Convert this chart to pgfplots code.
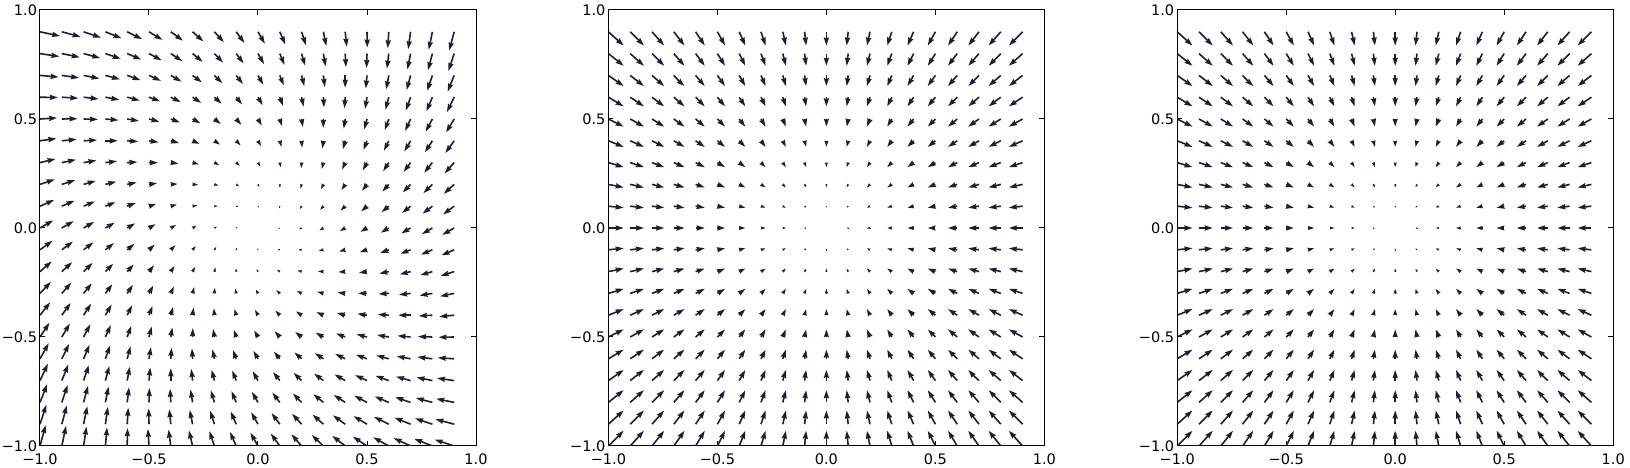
\documentclass[border=0pt]{standalone}
\usepackage{fontspec}
\setmainfont{DejaVu Sans}
\usepackage{pgfplots}
\usepackage{pgfplotstable}
\pgfplotsset{compat=1.18}
\usetikzlibrary{arrows.meta}
\definecolor{arrowcol}{HTML}{1E1E32}

% left panel: rotated converging field (x y u v)
\pgfplotstableread[row sep=\\]{
x y u v\\
-1 -1 0.37 1.37\\ -1 -0.9 0.42 1.28\\ -1 -0.8 0.47 1.19\\ -1 -0.7 0.52 1.11\\ -1 -0.6 0.57 1.02\\ -1 -0.5 0.62 0.93\\ -1 -0.4 0.67 0.85\\ -1 -0.3 0.72 0.76\\ -1 -0.2 0.77 0.67\\ -1 -0.1 0.82 0.59\\ -1 0 0.87 0.5\\ -1 0.1 0.92 0.41\\ -1 0.2 0.97 0.33\\ -1 0.3 1.02 0.24\\ -1 0.4 1.07 0.15\\ -1 0.5 1.12 0.07\\ -1 0.6 1.17 -0.02\\ -1 0.7 1.22 -0.11\\ -1 0.8 1.27 -0.19\\ -1 0.9 1.32 -0.28\\
-0.9 -1 0.28 1.32\\ -0.9 -0.9 0.33 1.23\\ -0.9 -0.8 0.38 1.14\\ -0.9 -0.7 0.43 1.06\\ -0.9 -0.6 0.48 0.97\\ -0.9 -0.5 0.53 0.88\\ -0.9 -0.4 0.58 0.80\\ -0.9 -0.3 0.63 0.71\\ -0.9 -0.2 0.68 0.62\\ -0.9 -0.1 0.73 0.54\\ -0.9 0 0.78 0.45\\ -0.9 0.1 0.83 0.36\\ -0.9 0.2 0.88 0.28\\ -0.9 0.3 0.93 0.19\\ -0.9 0.4 0.98 0.10\\ -0.9 0.5 1.03 0.02\\ -0.9 0.6 1.08 -0.07\\ -0.9 0.7 1.13 -0.16\\ -0.9 0.8 1.18 -0.24\\ -0.9 0.9 1.23 -0.33\\
-0.8 -1 0.19 1.27\\ -0.8 -0.9 0.24 1.18\\ -0.8 -0.8 0.29 1.09\\ -0.8 -0.7 0.34 1.01\\ -0.8 -0.6 0.39 0.92\\ -0.8 -0.5 0.44 0.83\\ -0.8 -0.4 0.49 0.75\\ -0.8 -0.3 0.54 0.66\\ -0.8 -0.2 0.59 0.57\\ -0.8 -0.1 0.64 0.49\\ -0.8 0 0.69 0.40\\ -0.8 0.1 0.74 0.31\\ -0.8 0.2 0.79 0.23\\ -0.8 0.3 0.84 0.14\\ -0.8 0.4 0.89 0.05\\ -0.8 0.5 0.94 -0.03\\ -0.8 0.6 0.99 -0.12\\ -0.8 0.7 1.04 -0.21\\ -0.8 0.8 1.09 -0.29\\ -0.8 0.9 1.14 -0.38\\
-0.7 -1 0.11 1.22\\ -0.7 -0.9 0.16 1.13\\ -0.7 -0.8 0.21 1.04\\ -0.7 -0.7 0.26 0.96\\ -0.7 -0.6 0.31 0.87\\ -0.7 -0.5 0.36 0.78\\ -0.7 -0.4 0.41 0.70\\ -0.7 -0.3 0.46 0.61\\ -0.7 -0.2 0.51 0.52\\ -0.7 -0.1 0.56 0.44\\ -0.7 0 0.61 0.35\\ -0.7 0.1 0.66 0.26\\ -0.7 0.2 0.71 0.18\\ -0.7 0.3 0.76 0.09\\ -0.7 0.4 0.81 0.00\\ -0.7 0.5 0.86 -0.08\\ -0.7 0.6 0.91 -0.17\\ -0.7 0.7 0.96 -0.26\\ -0.7 0.8 1.01 -0.34\\ -0.7 0.9 1.06 -0.43\\
-0.6 -1 0.02 1.17\\ -0.6 -0.9 0.07 1.08\\ -0.6 -0.8 0.12 0.99\\ -0.6 -0.7 0.17 0.91\\ -0.6 -0.6 0.22 0.82\\ -0.6 -0.5 0.27 0.73\\ -0.6 -0.4 0.32 0.65\\ -0.6 -0.3 0.37 0.56\\ -0.6 -0.2 0.42 0.47\\ -0.6 -0.1 0.47 0.39\\ -0.6 0 0.52 0.30\\ -0.6 0.1 0.57 0.21\\ -0.6 0.2 0.62 0.13\\ -0.6 0.3 0.67 0.04\\ -0.6 0.4 0.72 -0.05\\ -0.6 0.5 0.77 -0.13\\ -0.6 0.6 0.82 -0.22\\ -0.6 0.7 0.87 -0.31\\ -0.6 0.8 0.92 -0.39\\ -0.6 0.9 0.97 -0.48\\
-0.5 -1 -0.07 1.12\\ -0.5 -0.9 -0.02 1.03\\ -0.5 -0.8 0.03 0.94\\ -0.5 -0.7 0.08 0.86\\ -0.5 -0.6 0.13 0.77\\ -0.5 -0.5 0.18 0.68\\ -0.5 -0.4 0.23 0.60\\ -0.5 -0.3 0.28 0.51\\ -0.5 -0.2 0.33 0.42\\ -0.5 -0.1 0.38 0.34\\ -0.5 0 0.43 0.25\\ -0.5 0.1 0.48 0.16\\ -0.5 0.2 0.53 0.08\\ -0.5 0.3 0.58 -0.01\\ -0.5 0.4 0.63 -0.10\\ -0.5 0.5 0.68 -0.18\\ -0.5 0.6 0.73 -0.27\\ -0.5 0.7 0.78 -0.36\\ -0.5 0.8 0.83 -0.44\\ -0.5 0.9 0.88 -0.53\\
-0.4 -1 -0.15 1.07\\ -0.4 -0.9 -0.10 0.98\\ -0.4 -0.8 -0.05 0.89\\ -0.4 -0.7 0.00 0.81\\ -0.4 -0.6 0.05 0.72\\ -0.4 -0.5 0.10 0.63\\ -0.4 -0.4 0.15 0.55\\ -0.4 -0.3 0.20 0.46\\ -0.4 -0.2 0.25 0.37\\ -0.4 -0.1 0.30 0.29\\ -0.4 0 0.35 0.20\\ -0.4 0.1 0.40 0.11\\ -0.4 0.2 0.45 0.03\\ -0.4 0.3 0.50 -0.06\\ -0.4 0.4 0.55 -0.15\\ -0.4 0.5 0.60 -0.23\\ -0.4 0.6 0.65 -0.32\\ -0.4 0.7 0.70 -0.41\\ -0.4 0.8 0.75 -0.49\\ -0.4 0.9 0.80 -0.58\\
-0.3 -1 -0.24 1.02\\ -0.3 -0.9 -0.19 0.93\\ -0.3 -0.8 -0.14 0.84\\ -0.3 -0.7 -0.09 0.76\\ -0.3 -0.6 -0.04 0.67\\ -0.3 -0.5 0.01 0.58\\ -0.3 -0.4 0.06 0.50\\ -0.3 -0.3 0.11 0.41\\ -0.3 -0.2 0.16 0.32\\ -0.3 -0.1 0.21 0.24\\ -0.3 0 0.26 0.15\\ -0.3 0.1 0.31 0.06\\ -0.3 0.2 0.36 -0.02\\ -0.3 0.3 0.41 -0.11\\ -0.3 0.4 0.46 -0.20\\ -0.3 0.5 0.51 -0.28\\ -0.3 0.6 0.56 -0.37\\ -0.3 0.7 0.61 -0.46\\ -0.3 0.8 0.66 -0.54\\ -0.3 0.9 0.71 -0.63\\
-0.2 -1 -0.33 0.97\\ -0.2 -0.9 -0.28 0.88\\ -0.2 -0.8 -0.23 0.79\\ -0.2 -0.7 -0.18 0.71\\ -0.2 -0.6 -0.13 0.62\\ -0.2 -0.5 -0.08 0.53\\ -0.2 -0.4 -0.03 0.45\\ -0.2 -0.3 0.02 0.36\\ -0.2 -0.2 0.07 0.27\\ -0.2 -0.1 0.12 0.19\\ -0.2 0 0.17 0.10\\ -0.2 0.1 0.22 0.01\\ -0.2 0.2 0.27 -0.07\\ -0.2 0.3 0.32 -0.16\\ -0.2 0.4 0.37 -0.25\\ -0.2 0.5 0.42 -0.33\\ -0.2 0.6 0.47 -0.42\\ -0.2 0.7 0.52 -0.51\\ -0.2 0.8 0.57 -0.59\\ -0.2 0.9 0.62 -0.68\\
-0.1 -1 -0.41 0.92\\ -0.1 -0.9 -0.36 0.83\\ -0.1 -0.8 -0.31 0.74\\ -0.1 -0.7 -0.26 0.66\\ -0.1 -0.6 -0.21 0.57\\ -0.1 -0.5 -0.16 0.48\\ -0.1 -0.4 -0.11 0.40\\ -0.1 -0.3 -0.06 0.31\\ -0.1 -0.2 -0.01 0.22\\ -0.1 -0.1 0.04 0.14\\ -0.1 0 0.09 0.05\\ -0.1 0.1 0.14 -0.04\\ -0.1 0.2 0.19 -0.12\\ -0.1 0.3 0.24 -0.21\\ -0.1 0.4 0.29 -0.30\\ -0.1 0.5 0.34 -0.38\\ -0.1 0.6 0.39 -0.47\\ -0.1 0.7 0.44 -0.56\\ -0.1 0.8 0.49 -0.64\\ -0.1 0.9 0.54 -0.73\\
0 -1 -0.50 0.87\\ 0 -0.9 -0.45 0.78\\ 0 -0.8 -0.40 0.69\\ 0 -0.7 -0.35 0.61\\ 0 -0.6 -0.30 0.52\\ 0 -0.5 -0.25 0.43\\ 0 -0.4 -0.20 0.35\\ 0 -0.3 -0.15 0.26\\ 0 -0.2 -0.10 0.17\\ 0 -0.1 -0.05 0.09\\ 0 0.1 0.05 -0.09\\ 0 0.2 0.10 -0.17\\ 0 0.3 0.15 -0.26\\ 0 0.4 0.20 -0.35\\ 0 0.5 0.25 -0.43\\ 0 0.6 0.30 -0.52\\ 0 0.7 0.35 -0.61\\ 0 0.8 0.40 -0.69\\ 0 0.9 0.45 -0.78\\
0.1 -1 -0.59 0.82\\ 0.1 -0.9 -0.54 0.73\\ 0.1 -0.8 -0.49 0.64\\ 0.1 -0.7 -0.44 0.56\\ 0.1 -0.6 -0.39 0.47\\ 0.1 -0.5 -0.34 0.38\\ 0.1 -0.4 -0.29 0.30\\ 0.1 -0.3 -0.24 0.21\\ 0.1 -0.2 -0.19 0.12\\ 0.1 -0.1 -0.14 0.04\\ 0.1 0 -0.09 -0.05\\ 0.1 0.1 -0.04 -0.14\\ 0.1 0.2 0.01 -0.22\\ 0.1 0.3 0.06 -0.31\\ 0.1 0.4 0.11 -0.40\\ 0.1 0.5 0.16 -0.48\\ 0.1 0.6 0.21 -0.57\\ 0.1 0.7 0.26 -0.66\\ 0.1 0.8 0.31 -0.74\\ 0.1 0.9 0.36 -0.83\\
0.2 -1 -0.67 0.77\\ 0.2 -0.9 -0.62 0.68\\ 0.2 -0.8 -0.57 0.59\\ 0.2 -0.7 -0.52 0.51\\ 0.2 -0.6 -0.47 0.42\\ 0.2 -0.5 -0.42 0.33\\ 0.2 -0.4 -0.37 0.25\\ 0.2 -0.3 -0.32 0.16\\ 0.2 -0.2 -0.27 0.07\\ 0.2 -0.1 -0.22 -0.01\\ 0.2 0 -0.17 -0.10\\ 0.2 0.1 -0.12 -0.19\\ 0.2 0.2 -0.07 -0.27\\ 0.2 0.3 -0.02 -0.36\\ 0.2 0.4 0.03 -0.45\\ 0.2 0.5 0.08 -0.53\\ 0.2 0.6 0.13 -0.62\\ 0.2 0.7 0.18 -0.71\\ 0.2 0.8 0.23 -0.79\\ 0.2 0.9 0.28 -0.88\\
0.3 -1 -0.76 0.72\\ 0.3 -0.9 -0.71 0.63\\ 0.3 -0.8 -0.66 0.54\\ 0.3 -0.7 -0.61 0.46\\ 0.3 -0.6 -0.56 0.37\\ 0.3 -0.5 -0.51 0.28\\ 0.3 -0.4 -0.46 0.20\\ 0.3 -0.3 -0.41 0.11\\ 0.3 -0.2 -0.36 0.02\\ 0.3 -0.1 -0.31 -0.06\\ 0.3 0 -0.26 -0.15\\ 0.3 0.1 -0.21 -0.24\\ 0.3 0.2 -0.16 -0.32\\ 0.3 0.3 -0.11 -0.41\\ 0.3 0.4 -0.06 -0.50\\ 0.3 0.5 -0.01 -0.58\\ 0.3 0.6 0.04 -0.67\\ 0.3 0.7 0.09 -0.76\\ 0.3 0.8 0.14 -0.84\\ 0.3 0.9 0.19 -0.93\\
0.4 -1 -0.85 0.67\\ 0.4 -0.9 -0.80 0.58\\ 0.4 -0.8 -0.75 0.49\\ 0.4 -0.7 -0.70 0.41\\ 0.4 -0.6 -0.65 0.32\\ 0.4 -0.5 -0.60 0.23\\ 0.4 -0.4 -0.55 0.15\\ 0.4 -0.3 -0.50 0.06\\ 0.4 -0.2 -0.45 -0.03\\ 0.4 -0.1 -0.40 -0.11\\ 0.4 0 -0.35 -0.20\\ 0.4 0.1 -0.30 -0.29\\ 0.4 0.2 -0.25 -0.37\\ 0.4 0.3 -0.20 -0.46\\ 0.4 0.4 -0.15 -0.55\\ 0.4 0.5 -0.10 -0.63\\ 0.4 0.6 -0.05 -0.72\\ 0.4 0.7 0.00 -0.81\\ 0.4 0.8 0.05 -0.89\\ 0.4 0.9 0.10 -0.98\\
0.5 -1 -0.93 0.62\\ 0.5 -0.9 -0.88 0.53\\ 0.5 -0.8 -0.83 0.44\\ 0.5 -0.7 -0.78 0.36\\ 0.5 -0.6 -0.73 0.27\\ 0.5 -0.5 -0.68 0.18\\ 0.5 -0.4 -0.63 0.10\\ 0.5 -0.3 -0.58 0.01\\ 0.5 -0.2 -0.53 -0.08\\ 0.5 -0.1 -0.48 -0.16\\ 0.5 0 -0.43 -0.25\\ 0.5 0.1 -0.38 -0.34\\ 0.5 0.2 -0.33 -0.42\\ 0.5 0.3 -0.28 -0.51\\ 0.5 0.4 -0.23 -0.60\\ 0.5 0.5 -0.18 -0.68\\ 0.5 0.6 -0.13 -0.77\\ 0.5 0.7 -0.08 -0.86\\ 0.5 0.8 -0.03 -0.94\\ 0.5 0.9 0.02 -1.03\\
0.6 -1 -1.02 0.57\\ 0.6 -0.9 -0.97 0.48\\ 0.6 -0.8 -0.92 0.39\\ 0.6 -0.7 -0.87 0.31\\ 0.6 -0.6 -0.82 0.22\\ 0.6 -0.5 -0.77 0.13\\ 0.6 -0.4 -0.72 0.05\\ 0.6 -0.3 -0.67 -0.04\\ 0.6 -0.2 -0.62 -0.13\\ 0.6 -0.1 -0.57 -0.21\\ 0.6 0 -0.52 -0.30\\ 0.6 0.1 -0.47 -0.39\\ 0.6 0.2 -0.42 -0.47\\ 0.6 0.3 -0.37 -0.56\\ 0.6 0.4 -0.32 -0.65\\ 0.6 0.5 -0.27 -0.73\\ 0.6 0.6 -0.22 -0.82\\ 0.6 0.7 -0.17 -0.91\\ 0.6 0.8 -0.12 -0.99\\ 0.6 0.9 -0.07 -1.08\\
0.7 -1 -1.11 0.52\\ 0.7 -0.9 -1.06 0.43\\ 0.7 -0.8 -1.01 0.34\\ 0.7 -0.7 -0.96 0.26\\ 0.7 -0.6 -0.91 0.17\\ 0.7 -0.5 -0.86 0.08\\ 0.7 -0.4 -0.81 0.00\\ 0.7 -0.3 -0.76 -0.09\\ 0.7 -0.2 -0.71 -0.18\\ 0.7 -0.1 -0.66 -0.26\\ 0.7 0 -0.61 -0.35\\ 0.7 0.1 -0.56 -0.44\\ 0.7 0.2 -0.51 -0.52\\ 0.7 0.3 -0.46 -0.61\\ 0.7 0.4 -0.41 -0.70\\ 0.7 0.5 -0.36 -0.78\\ 0.7 0.6 -0.31 -0.87\\ 0.7 0.7 -0.26 -0.96\\ 0.7 0.8 -0.21 -1.04\\ 0.7 0.9 -0.16 -1.13\\
0.8 -1 -1.19 0.47\\ 0.8 -0.9 -1.14 0.38\\ 0.8 -0.8 -1.09 0.29\\ 0.8 -0.7 -1.04 0.21\\ 0.8 -0.6 -0.99 0.12\\ 0.8 -0.5 -0.94 0.03\\ 0.8 -0.4 -0.89 -0.05\\ 0.8 -0.3 -0.84 -0.14\\ 0.8 -0.2 -0.79 -0.23\\ 0.8 -0.1 -0.74 -0.31\\ 0.8 0 -0.69 -0.40\\ 0.8 0.1 -0.64 -0.49\\ 0.8 0.2 -0.59 -0.57\\ 0.8 0.3 -0.54 -0.66\\ 0.8 0.4 -0.49 -0.75\\ 0.8 0.5 -0.44 -0.83\\ 0.8 0.6 -0.39 -0.92\\ 0.8 0.7 -0.34 -1.01\\ 0.8 0.8 -0.29 -1.09\\ 0.8 0.9 -0.24 -1.18\\
0.9 -1 -1.28 0.42\\ 0.9 -0.9 -1.23 0.33\\ 0.9 -0.8 -1.18 0.24\\ 0.9 -0.7 -1.13 0.16\\ 0.9 -0.6 -1.08 0.07\\ 0.9 -0.5 -1.03 -0.02\\ 0.9 -0.4 -0.98 -0.10\\ 0.9 -0.3 -0.93 -0.19\\ 0.9 -0.2 -0.88 -0.28\\ 0.9 -0.1 -0.83 -0.36\\ 0.9 0 -0.78 -0.45\\ 0.9 0.1 -0.73 -0.54\\ 0.9 0.2 -0.68 -0.62\\ 0.9 0.3 -0.63 -0.71\\ 0.9 0.4 -0.58 -0.80\\ 0.9 0.5 -0.53 -0.88\\ 0.9 0.6 -0.48 -0.97\\ 0.9 0.7 -0.43 -1.06\\ 0.9 0.8 -0.38 -1.14\\ 0.9 0.9 -0.33 -1.23\\
}\lefttab

% middle and right panels: converging field (x y u v)
\pgfplotstableread[row sep=\\]{
x y u v\\
-1 -1 1 1\\ -1 -0.9 1 0.9\\ -1 -0.8 1 0.8\\ -1 -0.7 1 0.7\\ -1 -0.6 1 0.6\\ -1 -0.5 1 0.5\\ -1 -0.4 1 0.4\\ -1 -0.3 1 0.3\\ -1 -0.2 1 0.2\\ -1 -0.1 1 0.1\\ -1 0 1 0\\ -1 0.1 1 -0.1\\ -1 0.2 1 -0.2\\ -1 0.3 1 -0.3\\ -1 0.4 1 -0.4\\ -1 0.5 1 -0.5\\ -1 0.6 1 -0.6\\ -1 0.7 1 -0.7\\ -1 0.8 1 -0.8\\ -1 0.9 1 -0.9\\
-0.9 -1 0.9 1\\ -0.9 -0.9 0.9 0.9\\ -0.9 -0.8 0.9 0.8\\ -0.9 -0.7 0.9 0.7\\ -0.9 -0.6 0.9 0.6\\ -0.9 -0.5 0.9 0.5\\ -0.9 -0.4 0.9 0.4\\ -0.9 -0.3 0.9 0.3\\ -0.9 -0.2 0.9 0.2\\ -0.9 -0.1 0.9 0.1\\ -0.9 0 0.9 0\\ -0.9 0.1 0.9 -0.1\\ -0.9 0.2 0.9 -0.2\\ -0.9 0.3 0.9 -0.3\\ -0.9 0.4 0.9 -0.4\\ -0.9 0.5 0.9 -0.5\\ -0.9 0.6 0.9 -0.6\\ -0.9 0.7 0.9 -0.7\\ -0.9 0.8 0.9 -0.8\\ -0.9 0.9 0.9 -0.9\\
-0.8 -1 0.8 1\\ -0.8 -0.9 0.8 0.9\\ -0.8 -0.8 0.8 0.8\\ -0.8 -0.7 0.8 0.7\\ -0.8 -0.6 0.8 0.6\\ -0.8 -0.5 0.8 0.5\\ -0.8 -0.4 0.8 0.4\\ -0.8 -0.3 0.8 0.3\\ -0.8 -0.2 0.8 0.2\\ -0.8 -0.1 0.8 0.1\\ -0.8 0 0.8 0\\ -0.8 0.1 0.8 -0.1\\ -0.8 0.2 0.8 -0.2\\ -0.8 0.3 0.8 -0.3\\ -0.8 0.4 0.8 -0.4\\ -0.8 0.5 0.8 -0.5\\ -0.8 0.6 0.8 -0.6\\ -0.8 0.7 0.8 -0.7\\ -0.8 0.8 0.8 -0.8\\ -0.8 0.9 0.8 -0.9\\
-0.7 -1 0.7 1\\ -0.7 -0.9 0.7 0.9\\ -0.7 -0.8 0.7 0.8\\ -0.7 -0.7 0.7 0.7\\ -0.7 -0.6 0.7 0.6\\ -0.7 -0.5 0.7 0.5\\ -0.7 -0.4 0.7 0.4\\ -0.7 -0.3 0.7 0.3\\ -0.7 -0.2 0.7 0.2\\ -0.7 -0.1 0.7 0.1\\ -0.7 0 0.7 0\\ -0.7 0.1 0.7 -0.1\\ -0.7 0.2 0.7 -0.2\\ -0.7 0.3 0.7 -0.3\\ -0.7 0.4 0.7 -0.4\\ -0.7 0.5 0.7 -0.5\\ -0.7 0.6 0.7 -0.6\\ -0.7 0.7 0.7 -0.7\\ -0.7 0.8 0.7 -0.8\\ -0.7 0.9 0.7 -0.9\\
-0.6 -1 0.6 1\\ -0.6 -0.9 0.6 0.9\\ -0.6 -0.8 0.6 0.8\\ -0.6 -0.7 0.6 0.7\\ -0.6 -0.6 0.6 0.6\\ -0.6 -0.5 0.6 0.5\\ -0.6 -0.4 0.6 0.4\\ -0.6 -0.3 0.6 0.3\\ -0.6 -0.2 0.6 0.2\\ -0.6 -0.1 0.6 0.1\\ -0.6 0 0.6 0\\ -0.6 0.1 0.6 -0.1\\ -0.6 0.2 0.6 -0.2\\ -0.6 0.3 0.6 -0.3\\ -0.6 0.4 0.6 -0.4\\ -0.6 0.5 0.6 -0.5\\ -0.6 0.6 0.6 -0.6\\ -0.6 0.7 0.6 -0.7\\ -0.6 0.8 0.6 -0.8\\ -0.6 0.9 0.6 -0.9\\
-0.5 -1 0.5 1\\ -0.5 -0.9 0.5 0.9\\ -0.5 -0.8 0.5 0.8\\ -0.5 -0.7 0.5 0.7\\ -0.5 -0.6 0.5 0.6\\ -0.5 -0.5 0.5 0.5\\ -0.5 -0.4 0.5 0.4\\ -0.5 -0.3 0.5 0.3\\ -0.5 -0.2 0.5 0.2\\ -0.5 -0.1 0.5 0.1\\ -0.5 0 0.5 0\\ -0.5 0.1 0.5 -0.1\\ -0.5 0.2 0.5 -0.2\\ -0.5 0.3 0.5 -0.3\\ -0.5 0.4 0.5 -0.4\\ -0.5 0.5 0.5 -0.5\\ -0.5 0.6 0.5 -0.6\\ -0.5 0.7 0.5 -0.7\\ -0.5 0.8 0.5 -0.8\\ -0.5 0.9 0.5 -0.9\\
-0.4 -1 0.4 1\\ -0.4 -0.9 0.4 0.9\\ -0.4 -0.8 0.4 0.8\\ -0.4 -0.7 0.4 0.7\\ -0.4 -0.6 0.4 0.6\\ -0.4 -0.5 0.4 0.5\\ -0.4 -0.4 0.4 0.4\\ -0.4 -0.3 0.4 0.3\\ -0.4 -0.2 0.4 0.2\\ -0.4 -0.1 0.4 0.1\\ -0.4 0 0.4 0\\ -0.4 0.1 0.4 -0.1\\ -0.4 0.2 0.4 -0.2\\ -0.4 0.3 0.4 -0.3\\ -0.4 0.4 0.4 -0.4\\ -0.4 0.5 0.4 -0.5\\ -0.4 0.6 0.4 -0.6\\ -0.4 0.7 0.4 -0.7\\ -0.4 0.8 0.4 -0.8\\ -0.4 0.9 0.4 -0.9\\
-0.3 -1 0.3 1\\ -0.3 -0.9 0.3 0.9\\ -0.3 -0.8 0.3 0.8\\ -0.3 -0.7 0.3 0.7\\ -0.3 -0.6 0.3 0.6\\ -0.3 -0.5 0.3 0.5\\ -0.3 -0.4 0.3 0.4\\ -0.3 -0.3 0.3 0.3\\ -0.3 -0.2 0.3 0.2\\ -0.3 -0.1 0.3 0.1\\ -0.3 0 0.3 0\\ -0.3 0.1 0.3 -0.1\\ -0.3 0.2 0.3 -0.2\\ -0.3 0.3 0.3 -0.3\\ -0.3 0.4 0.3 -0.4\\ -0.3 0.5 0.3 -0.5\\ -0.3 0.6 0.3 -0.6\\ -0.3 0.7 0.3 -0.7\\ -0.3 0.8 0.3 -0.8\\ -0.3 0.9 0.3 -0.9\\
-0.2 -1 0.2 1\\ -0.2 -0.9 0.2 0.9\\ -0.2 -0.8 0.2 0.8\\ -0.2 -0.7 0.2 0.7\\ -0.2 -0.6 0.2 0.6\\ -0.2 -0.5 0.2 0.5\\ -0.2 -0.4 0.2 0.4\\ -0.2 -0.3 0.2 0.3\\ -0.2 -0.2 0.2 0.2\\ -0.2 -0.1 0.2 0.1\\ -0.2 0 0.2 0\\ -0.2 0.1 0.2 -0.1\\ -0.2 0.2 0.2 -0.2\\ -0.2 0.3 0.2 -0.3\\ -0.2 0.4 0.2 -0.4\\ -0.2 0.5 0.2 -0.5\\ -0.2 0.6 0.2 -0.6\\ -0.2 0.7 0.2 -0.7\\ -0.2 0.8 0.2 -0.8\\ -0.2 0.9 0.2 -0.9\\
-0.1 -1 0.1 1\\ -0.1 -0.9 0.1 0.9\\ -0.1 -0.8 0.1 0.8\\ -0.1 -0.7 0.1 0.7\\ -0.1 -0.6 0.1 0.6\\ -0.1 -0.5 0.1 0.5\\ -0.1 -0.4 0.1 0.4\\ -0.1 -0.3 0.1 0.3\\ -0.1 -0.2 0.1 0.2\\ -0.1 -0.1 0.1 0.1\\ -0.1 0 0.1 0\\ -0.1 0.1 0.1 -0.1\\ -0.1 0.2 0.1 -0.2\\ -0.1 0.3 0.1 -0.3\\ -0.1 0.4 0.1 -0.4\\ -0.1 0.5 0.1 -0.5\\ -0.1 0.6 0.1 -0.6\\ -0.1 0.7 0.1 -0.7\\ -0.1 0.8 0.1 -0.8\\ -0.1 0.9 0.1 -0.9\\
0 -1 0 1\\ 0 -0.9 0 0.9\\ 0 -0.8 0 0.8\\ 0 -0.7 0 0.7\\ 0 -0.6 0 0.6\\ 0 -0.5 0 0.5\\ 0 -0.4 0 0.4\\ 0 -0.3 0 0.3\\ 0 -0.2 0 0.2\\ 0 -0.1 0 0.1\\ 0 0.1 0 -0.1\\ 0 0.2 0 -0.2\\ 0 0.3 0 -0.3\\ 0 0.4 0 -0.4\\ 0 0.5 0 -0.5\\ 0 0.6 0 -0.6\\ 0 0.7 0 -0.7\\ 0 0.8 0 -0.8\\ 0 0.9 0 -0.9\\
0.1 -1 -0.1 1\\ 0.1 -0.9 -0.1 0.9\\ 0.1 -0.8 -0.1 0.8\\ 0.1 -0.7 -0.1 0.7\\ 0.1 -0.6 -0.1 0.6\\ 0.1 -0.5 -0.1 0.5\\ 0.1 -0.4 -0.1 0.4\\ 0.1 -0.3 -0.1 0.3\\ 0.1 -0.2 -0.1 0.2\\ 0.1 -0.1 -0.1 0.1\\ 0.1 0 -0.1 0\\ 0.1 0.1 -0.1 -0.1\\ 0.1 0.2 -0.1 -0.2\\ 0.1 0.3 -0.1 -0.3\\ 0.1 0.4 -0.1 -0.4\\ 0.1 0.5 -0.1 -0.5\\ 0.1 0.6 -0.1 -0.6\\ 0.1 0.7 -0.1 -0.7\\ 0.1 0.8 -0.1 -0.8\\ 0.1 0.9 -0.1 -0.9\\
0.2 -1 -0.2 1\\ 0.2 -0.9 -0.2 0.9\\ 0.2 -0.8 -0.2 0.8\\ 0.2 -0.7 -0.2 0.7\\ 0.2 -0.6 -0.2 0.6\\ 0.2 -0.5 -0.2 0.5\\ 0.2 -0.4 -0.2 0.4\\ 0.2 -0.3 -0.2 0.3\\ 0.2 -0.2 -0.2 0.2\\ 0.2 -0.1 -0.2 0.1\\ 0.2 0 -0.2 0\\ 0.2 0.1 -0.2 -0.1\\ 0.2 0.2 -0.2 -0.2\\ 0.2 0.3 -0.2 -0.3\\ 0.2 0.4 -0.2 -0.4\\ 0.2 0.5 -0.2 -0.5\\ 0.2 0.6 -0.2 -0.6\\ 0.2 0.7 -0.2 -0.7\\ 0.2 0.8 -0.2 -0.8\\ 0.2 0.9 -0.2 -0.9\\
0.3 -1 -0.3 1\\ 0.3 -0.9 -0.3 0.9\\ 0.3 -0.8 -0.3 0.8\\ 0.3 -0.7 -0.3 0.7\\ 0.3 -0.6 -0.3 0.6\\ 0.3 -0.5 -0.3 0.5\\ 0.3 -0.4 -0.3 0.4\\ 0.3 -0.3 -0.3 0.3\\ 0.3 -0.2 -0.3 0.2\\ 0.3 -0.1 -0.3 0.1\\ 0.3 0 -0.3 0\\ 0.3 0.1 -0.3 -0.1\\ 0.3 0.2 -0.3 -0.2\\ 0.3 0.3 -0.3 -0.3\\ 0.3 0.4 -0.3 -0.4\\ 0.3 0.5 -0.3 -0.5\\ 0.3 0.6 -0.3 -0.6\\ 0.3 0.7 -0.3 -0.7\\ 0.3 0.8 -0.3 -0.8\\ 0.3 0.9 -0.3 -0.9\\
0.4 -1 -0.4 1\\ 0.4 -0.9 -0.4 0.9\\ 0.4 -0.8 -0.4 0.8\\ 0.4 -0.7 -0.4 0.7\\ 0.4 -0.6 -0.4 0.6\\ 0.4 -0.5 -0.4 0.5\\ 0.4 -0.4 -0.4 0.4\\ 0.4 -0.3 -0.4 0.3\\ 0.4 -0.2 -0.4 0.2\\ 0.4 -0.1 -0.4 0.1\\ 0.4 0 -0.4 0\\ 0.4 0.1 -0.4 -0.1\\ 0.4 0.2 -0.4 -0.2\\ 0.4 0.3 -0.4 -0.3\\ 0.4 0.4 -0.4 -0.4\\ 0.4 0.5 -0.4 -0.5\\ 0.4 0.6 -0.4 -0.6\\ 0.4 0.7 -0.4 -0.7\\ 0.4 0.8 -0.4 -0.8\\ 0.4 0.9 -0.4 -0.9\\
0.5 -1 -0.5 1\\ 0.5 -0.9 -0.5 0.9\\ 0.5 -0.8 -0.5 0.8\\ 0.5 -0.7 -0.5 0.7\\ 0.5 -0.6 -0.5 0.6\\ 0.5 -0.5 -0.5 0.5\\ 0.5 -0.4 -0.5 0.4\\ 0.5 -0.3 -0.5 0.3\\ 0.5 -0.2 -0.5 0.2\\ 0.5 -0.1 -0.5 0.1\\ 0.5 0 -0.5 0\\ 0.5 0.1 -0.5 -0.1\\ 0.5 0.2 -0.5 -0.2\\ 0.5 0.3 -0.5 -0.3\\ 0.5 0.4 -0.5 -0.4\\ 0.5 0.5 -0.5 -0.5\\ 0.5 0.6 -0.5 -0.6\\ 0.5 0.7 -0.5 -0.7\\ 0.5 0.8 -0.5 -0.8\\ 0.5 0.9 -0.5 -0.9\\
0.6 -1 -0.6 1\\ 0.6 -0.9 -0.6 0.9\\ 0.6 -0.8 -0.6 0.8\\ 0.6 -0.7 -0.6 0.7\\ 0.6 -0.6 -0.6 0.6\\ 0.6 -0.5 -0.6 0.5\\ 0.6 -0.4 -0.6 0.4\\ 0.6 -0.3 -0.6 0.3\\ 0.6 -0.2 -0.6 0.2\\ 0.6 -0.1 -0.6 0.1\\ 0.6 0 -0.6 0\\ 0.6 0.1 -0.6 -0.1\\ 0.6 0.2 -0.6 -0.2\\ 0.6 0.3 -0.6 -0.3\\ 0.6 0.4 -0.6 -0.4\\ 0.6 0.5 -0.6 -0.5\\ 0.6 0.6 -0.6 -0.6\\ 0.6 0.7 -0.6 -0.7\\ 0.6 0.8 -0.6 -0.8\\ 0.6 0.9 -0.6 -0.9\\
0.7 -1 -0.7 1\\ 0.7 -0.9 -0.7 0.9\\ 0.7 -0.8 -0.7 0.8\\ 0.7 -0.7 -0.7 0.7\\ 0.7 -0.6 -0.7 0.6\\ 0.7 -0.5 -0.7 0.5\\ 0.7 -0.4 -0.7 0.4\\ 0.7 -0.3 -0.7 0.3\\ 0.7 -0.2 -0.7 0.2\\ 0.7 -0.1 -0.7 0.1\\ 0.7 0 -0.7 0\\ 0.7 0.1 -0.7 -0.1\\ 0.7 0.2 -0.7 -0.2\\ 0.7 0.3 -0.7 -0.3\\ 0.7 0.4 -0.7 -0.4\\ 0.7 0.5 -0.7 -0.5\\ 0.7 0.6 -0.7 -0.6\\ 0.7 0.7 -0.7 -0.7\\ 0.7 0.8 -0.7 -0.8\\ 0.7 0.9 -0.7 -0.9\\
0.8 -1 -0.8 1\\ 0.8 -0.9 -0.8 0.9\\ 0.8 -0.8 -0.8 0.8\\ 0.8 -0.7 -0.8 0.7\\ 0.8 -0.6 -0.8 0.6\\ 0.8 -0.5 -0.8 0.5\\ 0.8 -0.4 -0.8 0.4\\ 0.8 -0.3 -0.8 0.3\\ 0.8 -0.2 -0.8 0.2\\ 0.8 -0.1 -0.8 0.1\\ 0.8 0 -0.8 0\\ 0.8 0.1 -0.8 -0.1\\ 0.8 0.2 -0.8 -0.2\\ 0.8 0.3 -0.8 -0.3\\ 0.8 0.4 -0.8 -0.4\\ 0.8 0.5 -0.8 -0.5\\ 0.8 0.6 -0.8 -0.6\\ 0.8 0.7 -0.8 -0.7\\ 0.8 0.8 -0.8 -0.8\\ 0.8 0.9 -0.8 -0.9\\
0.9 -1 -0.9 1\\ 0.9 -0.9 -0.9 0.9\\ 0.9 -0.8 -0.9 0.8\\ 0.9 -0.7 -0.9 0.7\\ 0.9 -0.6 -0.9 0.6\\ 0.9 -0.5 -0.9 0.5\\ 0.9 -0.4 -0.9 0.4\\ 0.9 -0.3 -0.9 0.3\\ 0.9 -0.2 -0.9 0.2\\ 0.9 -0.1 -0.9 0.1\\ 0.9 0 -0.9 0\\ 0.9 0.1 -0.9 -0.1\\ 0.9 0.2 -0.9 -0.2\\ 0.9 0.3 -0.9 -0.3\\ 0.9 0.4 -0.9 -0.4\\ 0.9 0.5 -0.9 -0.5\\ 0.9 0.6 -0.9 -0.6\\ 0.9 0.7 -0.9 -0.7\\ 0.9 0.8 -0.9 -0.8\\ 0.9 0.9 -0.9 -0.9\\
}\radtab

\pgfplotsset{
  myax/.style={
    anchor=south west,
    width=218pt, height=218pt, scale only axis,
    xmin=-1, xmax=1, ymin=-1, ymax=1,
    xtick={-1,-0.5,0,0.5,1}, ytick={-1,-0.5,0,0.5,1},
    xticklabels={−1.0,−0.5,0.0,0.5,1.0},
    yticklabels={−1.0,−0.5,0.0,0.5,1.0},
    tick align=inside, xtick pos=both, ytick pos=both,
    xticklabel pos=bottom, yticklabel pos=left,
    major tick length=2.5pt,
    axis line style={line width=0.5pt, black},
    tick style={line width=0.5pt, black},
    tick label style={font=\fontsize{7.25}{8}\selectfont, inner sep=0pt},
    xticklabel style={yshift=-3.5pt},
    yticklabel style={xshift=-1.3pt},
    point meta min=0, point meta max=1.5,
  },
  qv/.style={
    color=arrowcol,
    point meta={sqrt((\thisrow{u})^2+(\thisrow{v})^2)},
    quiver={u=\thisrow{u}, v=\thisrow{v}, scale arrows=0.07,
      every arrow/.append style={line width={0.8pt*min(1,0.002885*\pgfplotspointmetatransformed)}}},
    -{Stealth[length=0pt 5, width=0pt 3.2, inset=0pt 0.5]},
  },
}

\begin{document}
\begin{tikzpicture}
\useasboundingbox (0,0) rectangle (815pt,233.5pt);
\begin{axis}[myax, at={(20pt,10.5pt)}]
\addplot[qv] table {\lefttab};
\end{axis}
\begin{axis}[myax, at={(304.2pt,10.5pt)}]
\addplot[qv] table {\radtab};
\end{axis}
\begin{axis}[myax, at={(588.6pt,10.5pt)}]
\addplot[qv] table {\radtab};
\end{axis}
\end{tikzpicture}
\end{document}
